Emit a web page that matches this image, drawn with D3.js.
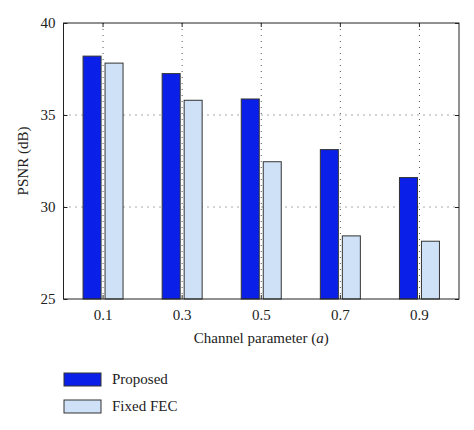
<!DOCTYPE html>
<html>
<head>
<meta charset="utf-8">
<script src="https://cdn.jsdelivr.net/npm/d3@7"></script>
<style>
  body { margin: 0; background: #fff; }
  text { font-family: "Liberation Serif", "DejaVu Serif", serif; }
</style>
</head>
<body>
<svg id="chart" width="474" height="430"></svg>
<script>
const categories = ["0.1", "0.3", "0.5", "0.7", "0.9"];
const proposed = [38.2, 37.25, 35.87, 33.12, 31.6];
const fixedFEC = [37.82, 35.8, 32.46, 28.43, 28.14];
const yTicks = [25, 30, 35, 40];

const svg = d3.select("#chart");
const margin = { top: 23, right: 15, bottom: 131, left: 63.5 };
const width = 474, height = 430;

const x = d3.scaleBand().domain(categories).range([margin.left, width - margin.right]);
const y = d3.scaleLinear().domain([25, 40]).range([height - margin.bottom, margin.top]);

// dotted grid
const grid = svg.append("g").attr("stroke", "#555").attr("stroke-dasharray", "1,5").attr("stroke-width", 1);
categories.forEach(c => {
  const cx = x(c) + x.bandwidth() / 2;
  grid.append("line").attr("x1", cx).attr("x2", cx).attr("y1", y(40)).attr("y2", y(25));
});
[30, 35].forEach(v => {
  grid.append("line").attr("x1", margin.left).attr("x2", width - margin.right).attr("y1", y(v)).attr("y2", y(v));
});

// bars
const barW = 18, gap = 2;
const series = [
  { values: proposed, color: "#0a20e8", offset: -gap - barW },
  { values: fixedFEC, color: "#cfe1f6", offset: gap }
];
series.forEach(s => {
  svg.append("g").selectAll("rect").data(categories).join("rect")
    .attr("x", (d) => x(d) + x.bandwidth() / 2 + s.offset)
    .attr("y", (d, i) => y(s.values[i]))
    .attr("width", barW)
    .attr("height", (d, i) => y(25) - y(s.values[i]))
    .attr("fill", s.color)
    .attr("stroke", "#333")
    .attr("stroke-width", 1);
});

// axes
const fmt = d => d;
svg.append("g").attr("transform", `translate(0,${y(25)})`)
  .call(d3.axisBottom(x).tickSize(-4).tickPadding(10))
  .call(g => g.select(".domain").remove());
svg.append("g").attr("transform", `translate(0,${y(40)})`)
  .call(d3.axisTop(x).tickSize(-4).tickFormat(""))
  .call(g => g.select(".domain").remove());
svg.append("g").attr("transform", `translate(${margin.left},0)`)
  .call(d3.axisLeft(y).tickValues(yTicks).tickSize(-4).tickPadding(8).tickFormat(fmt))
  .call(g => g.select(".domain").remove());
svg.append("g").attr("transform", `translate(${width - margin.right},0)`)
  .call(d3.axisRight(y).tickValues(yTicks).tickSize(-4).tickFormat(""))
  .call(g => g.select(".domain").remove());
svg.selectAll(".tick text").attr("font-size", 15).attr("fill", "#222")
  .style("font-family", "'Liberation Serif', serif");
svg.selectAll(".tick line").attr("stroke", "#222");

svg.append("rect")
  .attr("x", margin.left).attr("y", y(40))
  .attr("width", width - margin.right - margin.left).attr("height", y(25) - y(40))
  .attr("fill", "none").attr("stroke", "#222").attr("stroke-width", 1);

// axis labels
svg.append("text").attr("x", (margin.left + width - margin.right) / 2).attr("y", 343)
  .attr("text-anchor", "middle").attr("font-size", 15).attr("fill", "#222")
  .html('Channel parameter (<tspan font-style="italic">a</tspan>)');
svg.append("text").attr("transform", `translate(28,${(y(25) + y(40)) / 2}) rotate(-90)`)
  .attr("text-anchor", "middle").attr("font-size", 15).attr("fill", "#222")
  .text("PSNR (dB)");

// legend
const legend = [
  { name: "Proposed", color: "#0a20e8", y: 373 },
  { name: "Fixed FEC", color: "#cfe1f6", y: 400 }
];
legend.forEach(l => {
  svg.append("rect").attr("x", 64).attr("y", l.y).attr("width", 37).attr("height", 13)
    .attr("fill", l.color).attr("stroke", "#333");
  svg.append("text").attr("x", 112).attr("y", l.y + 11).attr("font-size", 15).attr("fill", "#222")
    .text(l.name);
});
</script>
</body>
</html>
